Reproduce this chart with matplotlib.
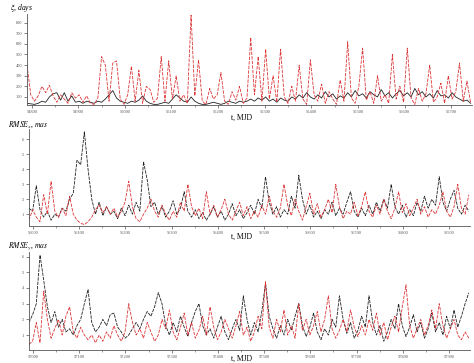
import numpy as np
import matplotlib
matplotlib.use('Agg')
import matplotlib.pyplot as plt
from matplotlib.ticker import MultipleLocator

plt.rcParams['font.family'] = ['Liberation Serif', 'DejaVu Serif']
plt.rcParams['mathtext.fontset'] = 'stix'

# шаг по времени 8 сут, 120 точек на каждую панель
n_pts = 120
t1 = 54790 + 8 * np.arange(n_pts)
t2 = 55991 + 8 * np.arange(n_pts)
t3 = 56991 + 8 * np.arange(n_pts)

# верхняя панель: xi, сутки
xi_red = [400, 120, 60, 110, 200, 140, 210, 110, 50, 120,
          80, 40, 140, 90, 120, 50, 110, 40, 30, 90,
          480, 400, 60, 420, 440, 80, 30, 120, 390, 60,
          350, 40, 200, 170, 50, 90, 480, 60, 440, 80,
          300, 60, 120, 40, 870, 110, 450, 60, 30, 180,
          80, 120, 330, 60, 30, 150, 70, 200, 40, 90,
          660, 120, 480, 60, 550, 80, 300, 50, 550, 100,
          40, 200, 60, 400, 80, 30, 450, 120, 60, 220,
          40, 150, 80, 30, 260, 60, 620, 90, 40, 200,
          560, 70, 150, 40, 300, 60, 120, 40, 500, 80,
          200, 50, 560, 90, 30, 180, 60, 130, 400, 50,
          100, 230, 40, 300, 80, 150, 420, 60, 250, 40]
xi_black = [40, 35, 30, 40, 60, 50, 100, 130, 140, 70,
            140, 60, 110, 50, 60, 40, 60, 50, 40, 60,
            50, 80, 120, 160, 90, 60, 50, 40, 60, 50,
            70, 110, 60, 40, 30, 30, 40, 50, 40, 80,
            120, 90, 60, 50, 100, 60, 40, 30, 30, 40,
            50, 40, 30, 40, 60, 50, 40, 60, 50, 60,
            80, 60, 90, 70, 100, 60, 80, 50, 90, 70,
            60, 100, 80, 120, 90, 140, 100, 80, 120, 90,
            150, 100, 130, 80, 110, 90, 140, 100, 160, 110,
            130, 90, 150, 120, 100, 170, 110, 140, 90, 130,
            160, 110, 140, 100, 180, 120, 150, 100, 130, 90,
            160, 110, 120, 90, 140, 100, 80, 60, 70, 40]

# средняя панель: RMSE x, mas
rx_black = [1.4, 1.2, 2.9, 1.3, 0.8, 1.2, 0.6, 1.0, 0.8, 1.4,
            1.2, 2.0, 2.4, 4.6, 4.3, 6.5, 4.0, 2.0, 1.0, 1.8,
            0.9, 1.5, 1.0, 1.2, 0.7, 1.4, 0.9, 1.6, 1.0, 1.8,
            1.2, 4.5, 3.3, 1.5, 1.8, 1.0, 1.5, 0.8, 1.2, 1.9,
            1.0, 1.4, 2.5, 1.2, 0.8, 1.3, 0.7, 1.1, 0.6, 1.0,
            1.5, 0.8, 1.2, 0.6, 1.0, 1.7, 0.9, 1.3, 0.7, 1.1,
            1.6, 1.0, 2.0, 1.4, 3.5, 1.8, 1.0, 1.5, 0.8, 1.3,
            1.0, 2.2, 1.4, 3.6, 2.0, 1.0, 1.6, 0.8, 1.2, 0.7,
            1.3, 1.0, 1.8, 0.9, 1.4, 1.0, 1.8, 2.5, 1.2, 0.8,
            1.4, 0.9, 1.6, 1.0, 1.8, 1.2, 2.0, 1.4, 3.0, 1.5,
            1.0, 1.6, 0.8, 1.3, 0.9, 1.8, 1.2, 2.2, 1.4, 2.0,
            1.6, 3.5, 1.8, 1.2, 2.0, 2.6, 1.4, 1.0, 1.6, 1.2]
rx_red = [0.6, 1.3, 0.8, 0.5, 2.3, 1.0, 3.2, 1.2, 0.8, 1.4,
          0.9, 2.2, 1.0, 0.6, 0.4, 0.3, 0.5, 0.8, 1.3, 1.6,
          1.1, 1.5, 1.0, 1.4, 0.8, 1.2, 1.8, 3.2, 1.5, 0.7,
          0.5, 1.0, 1.4, 2.0, 1.2, 0.8, 1.6, 1.0, 0.6, 1.2,
          0.8, 1.8, 1.2, 3.0, 1.5, 0.9, 1.4, 0.7, 2.5, 1.0,
          1.6, 0.8, 1.3, 2.0, 1.0, 0.6, 1.2, 1.8, 0.9, 1.5,
          0.7, 1.2, 0.8, 1.6, 1.0, 2.2, 1.2, 0.8, 1.4, 3.0,
          1.6, 0.9, 2.0, 1.2, 0.6, 1.5, 2.4, 1.0, 1.7, 0.8,
          1.3, 2.0, 1.1, 3.0, 1.5, 0.7, 1.2, 1.0, 1.8, 0.9,
          1.5, 2.5, 1.2, 0.8, 1.6, 1.0, 2.0, 1.2, 0.7, 1.4,
          2.5, 1.1, 1.7, 0.9, 1.4, 2.0, 1.0, 1.5, 0.8, 1.3,
          1.0, 1.6, 2.5, 1.2, 0.8, 1.5, 3.0, 1.4, 1.0, 2.3]

# нижняя панель: RMSE y, mas
ry_black = [1.8, 2.3, 3.0, 6.1, 4.5, 2.8, 1.8, 2.5, 1.5, 2.0,
            1.2, 1.4, 1.0, 1.6, 2.0, 3.0, 3.9, 1.8, 1.2, 1.5,
            2.0, 1.6, 2.3, 2.4, 1.5, 1.2, 0.8, 1.0, 1.4, 1.8,
            1.4, 2.0, 2.5, 2.2, 2.8, 3.7, 3.0, 1.6, 1.0, 1.8,
            1.2, 2.2, 1.5, 0.9, 1.8, 2.5, 3.0, 1.6, 1.0, 1.4,
            0.8, 1.5, 2.2, 1.2, 0.7, 1.4, 2.0, 1.3, 3.5, 2.0,
            1.0, 1.8, 1.2, 2.5, 4.3, 2.2, 1.4, 0.8, 1.6, 1.0,
            2.0, 1.3, 2.2, 3.0, 1.6, 0.9, 1.5, 2.4, 1.2, 0.7,
            1.4, 1.0, 2.0, 1.5, 3.5, 2.0, 1.1, 1.8, 0.8, 1.3,
            2.2, 1.5, 3.5, 1.8, 1.0, 1.6, 0.6, 1.2, 2.0, 1.4,
            3.0, 1.6, 0.9, 1.5, 2.3, 1.2, 1.8, 0.8, 1.4, 2.4,
            1.2, 1.8, 1.0, 2.2, 1.4, 2.6, 1.5, 2.2, 3.0, 3.7]
ry_red = [0.4, 0.6, 1.8, 0.5, 3.8, 2.0, 0.8, 1.4, 2.0, 1.0,
          2.2, 2.8, 1.2, 0.8, 1.5, 1.0, 0.7, 1.0, 0.5, 1.0,
          0.6, 1.2, 0.8, 1.6, 1.0, 0.6, 1.2, 3.0, 1.8, 1.0,
          1.4, 0.8, 1.8, 1.2, 0.6, 1.0, 2.0, 1.4, 2.6, 1.2,
          0.7, 1.5, 2.4, 1.0, 1.8, 0.8, 1.3, 2.2, 1.0, 2.8,
          1.5, 0.7, 1.2, 2.0, 1.4, 0.8, 1.6, 2.5, 1.0, 1.5,
          0.6, 1.2, 2.2, 1.4, 4.4, 1.5, 0.8, 2.0, 1.2, 2.6,
          1.0, 1.6, 0.8, 3.0, 1.3, 2.0, 1.0, 1.6, 2.5, 1.2,
          2.0, 3.5, 1.4, 0.8, 1.3, 2.0, 1.2, 2.6, 1.5, 0.9,
          1.6, 1.0, 2.0, 1.3, 2.4, 1.0, 1.8, 0.7, 1.5, 2.2,
          1.2, 2.8, 4.2, 1.6, 0.8, 1.4, 2.0, 1.0, 1.6, 2.6,
          1.4, 3.0, 1.6, 0.8, 1.4, 2.0, 1.0, 0.7, 1.2, 0.8]

red = '#dd3436'

fig = plt.figure(figsize=(4.74, 3.63), dpi=100)


def style_axis(ax, t):
    for s in ('top', 'right'):
        ax.spines[s].set_visible(False)
    for s in ('left', 'bottom'):
        ax.spines[s].set_linewidth(0.6)
        ax.spines[s].set_color('#555555')
    ax.xaxis.set_major_locator(MultipleLocator(100))
    ax.xaxis.set_minor_locator(MultipleLocator(50))
    ax.tick_params(axis='both', which='major', labelsize=3.2, length=2,
                   width=0.5, pad=1.5, colors='#555555')
    ax.tick_params(axis='both', which='minor', length=1.2, width=0.4,
                   colors='#555555')
    ax.set_xlim(t[0], t[-1] + 3)


# верхняя панель
ax1 = fig.add_axes([0.057, 0.711, 0.939, 0.25])
ax1.plot(t1, xi_black, color='#222222', lw=0.6)
ax1.plot(t1, xi_red, color=red, lw=0.6, ls=(0, (4, 1.5)))
ax1.set_ylim(25, 880)
style_axis(ax1, t1)
ax1.set_yticks([100, 200, 300, 400, 500, 600, 700, 800])
fig.text(0.021, 0.978, r'$\xi$, days', fontsize=5.5, va='center',
         style='italic')
fig.text(0.487, 0.675, 't, MJD', fontsize=5.5, va='center')

# средняя панель
ax2 = fig.add_axes([0.061, 0.377, 0.931, 0.268])
ax2.plot(t2, rx_black, color='#222222', lw=0.6, ls=(0, (4, 1.2)))
ax2.plot(t2, rx_red, color=red, lw=0.6, ls=(0, (4, 1.5)))
ax2.set_ylim(0.2, 6.7)
ax2.set_yticks([1, 2, 3, 4, 5, 6])
style_axis(ax2, t2)
fig.text(0.017, 0.656, r'$RMSE_x$, $mas$', fontsize=5.5, va='center')
fig.text(0.487, 0.347, 't, MJD', fontsize=5.5, va='center')

# нижняя панель
ax3 = fig.add_axes([0.061, 0.036, 0.931, 0.27])
ax3.plot(t3, ry_black, color='#222222', lw=0.6, ls=(0, (4, 1.2)))
ax3.plot(t3, ry_red, color=red, lw=0.6, ls=(0, (4, 1.5)))
ax3.set_ylim(0.05, 6.3)
ax3.set_yticks([1, 2, 3, 4, 5, 6])
style_axis(ax3, t3)
fig.text(0.017, 0.322, r'$RMSE_y$, $mas$', fontsize=5.5, va='center')
fig.text(0.487, 0.011, 't, MJD', fontsize=5.5, va='center')

fig.savefig('out.png', dpi=100)
